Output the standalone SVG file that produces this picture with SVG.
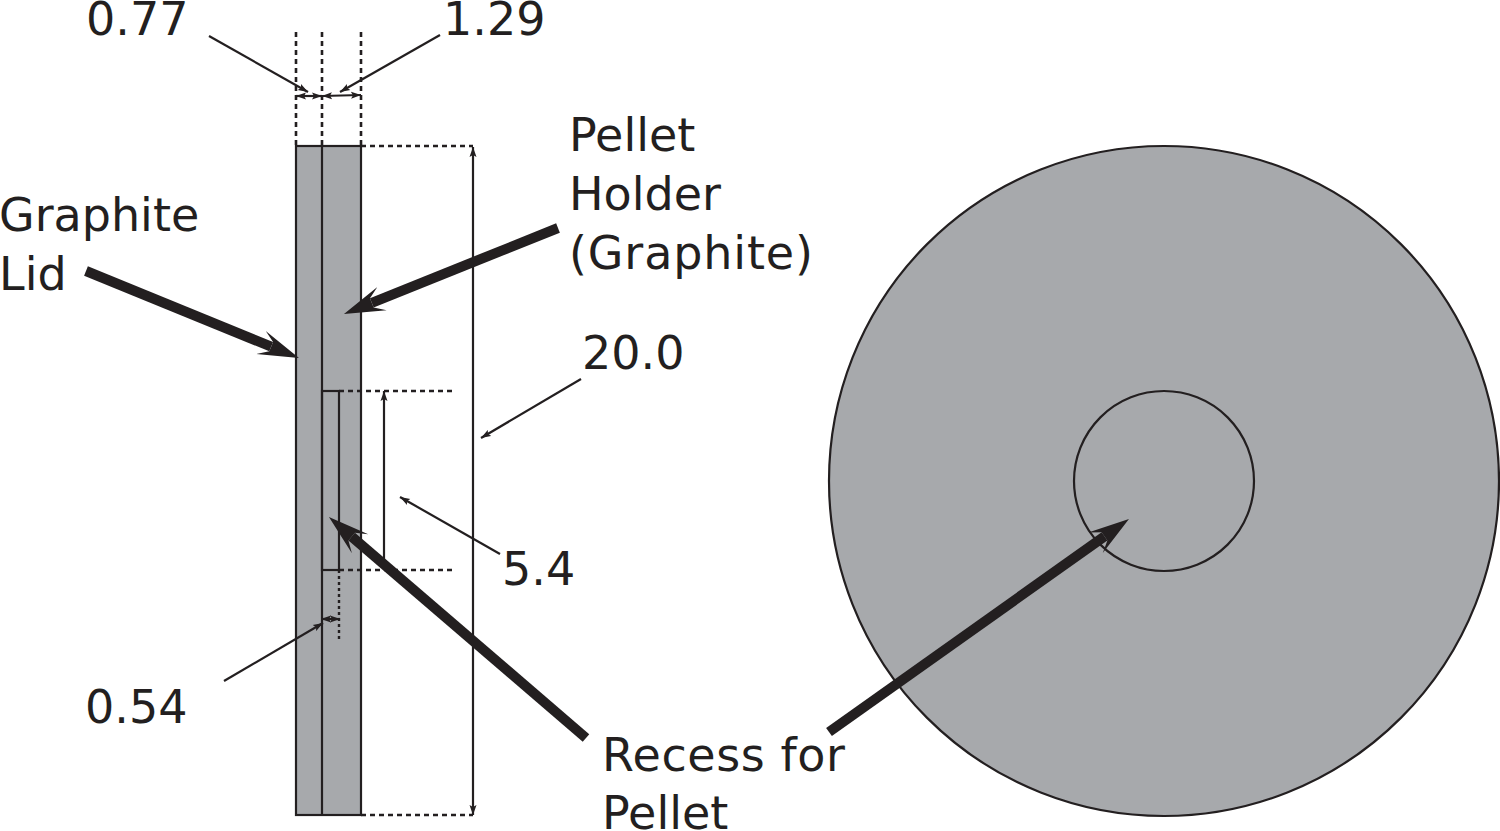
<svg xmlns="http://www.w3.org/2000/svg" width="1500" height="831" viewBox="0 0 1500 831">
<style>
text{font-family:"DejaVu Sans",Verdana,sans-serif;font-size:46px;fill:#231f20}
.body{fill:#a7a9ac;stroke:#231f20;stroke-width:2.2}
.edge{fill:none;stroke:#231f20;stroke-width:2.2}
.dash{fill:none;stroke:#231f20;stroke-width:2.6;stroke-dasharray:5 4}
.dot{fill:none;stroke:#231f20;stroke-width:2.4;stroke-dasharray:3 3}
.thin{fill:none;stroke:#231f20;stroke-width:2.2;marker-end:url(#small)}
.dim{fill:none;stroke:#231f20;stroke-width:2.2;marker-start:url(#smallStart);marker-end:url(#small)}
.thick{fill:none;stroke:#231f20;stroke-width:10;marker-end:url(#big)}
</style>
<defs>
<marker id="small" markerUnits="userSpaceOnUse" viewBox="0 -4 10 8" refX="10" refY="0" markerWidth="10" markerHeight="8" orient="auto"><path d="M10,0L0,-3.5L2,0L0,3.5Z" fill="#231f20"/></marker>
<marker id="smallStart" markerUnits="userSpaceOnUse" viewBox="0 -4 10 8" refX="0" refY="0" markerWidth="10" markerHeight="8" orient="auto"><path d="M0,0L10,-3.5L8,0L10,3.5Z" fill="#231f20"/></marker>
<marker id="big" markerUnits="userSpaceOnUse" viewBox="0 -14 42 28" refX="11" refY="0" markerWidth="42" markerHeight="28" orient="auto"><path d="M41,0L0,-12.5L11,-5L11,5L0,12.5Z" fill="#231f20"/></marker>
</defs>
<g id="side-view">
<rect class="body" x="296" y="146" width="65" height="669"/>
<line class="edge" x1="322" y1="146" x2="322" y2="815"/>
<rect class="edge" x="322" y="391" width="17" height="179"/>
</g>
<g id="front-view">
<circle class="body" cx="1164" cy="481" r="335"/>
<circle class="edge" cx="1164" cy="481" r="90"/>
</g>
<g id="connectors">
<path class="dash" d="M296,32V146M322,32V146M361,32V146M361,146H473M361,815H473M339,391H453M339,570H453"/>
<path class="dot" d="M339,570V642"/>
<line class="dim" x1="296" y1="96" x2="322" y2="96"/>
<line class="dim" x1="322" y1="96" x2="361" y2="95"/>
<line class="dim" x1="321" y1="619" x2="340" y2="619"/>
<line class="dim" x1="473" y1="147" x2="473" y2="815"/>
<line class="thin" x1="384" y1="570" x2="384" y2="391"/>
<line class="thin" x1="209" y1="36" x2="308" y2="92"/>
<line class="thin" x1="440" y1="35" x2="340" y2="92"/>
<line class="thin" x1="581" y1="379" x2="481" y2="438"/>
<line class="thin" x1="500" y1="554" x2="400" y2="497"/>
<line class="thin" x1="224" y1="681" x2="323" y2="623"/>
<line class="thick" x1="86" y1="271" x2="271.2" y2="346.7"/>
<line class="thick" x1="558" y1="228" x2="371.8" y2="302.8"/>
<line class="thick" x1="586" y1="738" x2="351.7" y2="536.6"/>
<line class="thick" x1="829" y1="732" x2="1104.5" y2="536.4"/>
</g>
<g id="labels">
<text x="86" y="35">0.77</text>
<text x="443" y="35">1.29</text>
<text x="569" y="151">Pellet</text>
<text x="569" y="210">Holder</text>
<text x="569" y="269" textLength="244">(Graphite)</text>
<text x="-1" y="231">Graphite</text>
<text x="-1" y="290">Lid</text>
<text x="582" y="369">20.0</text>
<text x="502" y="585">5.4</text>
<text x="85" y="723">0.54</text>
<text x="602" y="771" textLength="243">Recess for</text>
<text x="602" y="829">Pellet</text>
</g>
</svg>
